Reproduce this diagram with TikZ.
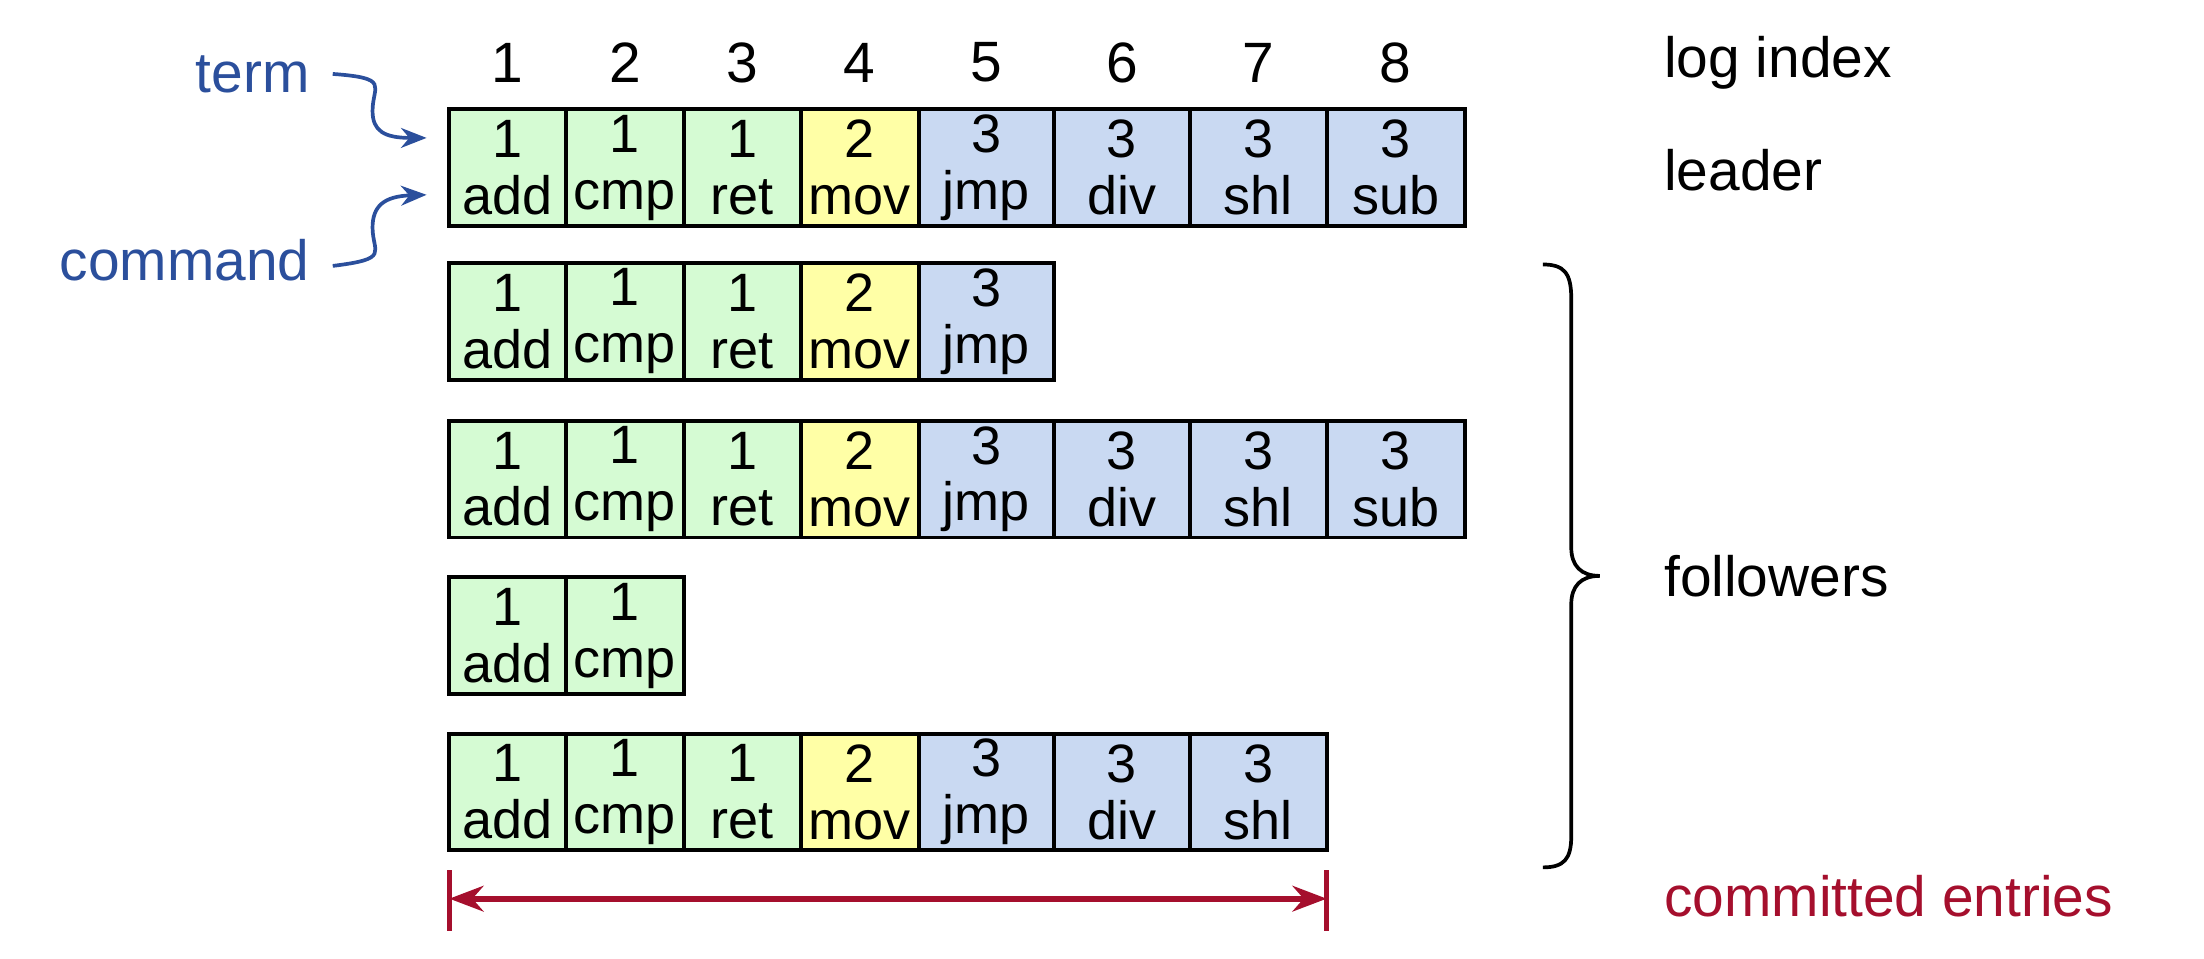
\documentclass[tikz,border=0pt]{standalone}
\usepackage{fontspec}
\setmainfont{Liberation Sans}
\usetikzlibrary{arrows.meta}
\definecolor{cg}{HTML}{D5FBD3}
\definecolor{cy}{HTML}{FFFFA6}
\definecolor{cb}{HTML}{C9D9F2}
\definecolor{tblue}{HTML}{2B4F9C}
\definecolor{cred}{HTML}{A50F2D}
\begin{document}
\begin{tikzpicture}[x=0.5pt,y=-0.5pt,
  cell/.style={draw=black,line width=1.4pt,inner sep=0pt,align=center,font=\fontsize{19}{20}\selectfont},
  lbl/.style={font=\fontsize{20}{22}\selectfont,anchor=west,inner sep=0pt},
  note/.style={font=\fontsize{20}{22}\selectfont,text=tblue,anchor=east,inner sep=0pt},
  bluearrow/.style={draw=tblue,line width=1.3pt,-{Stealth[length=9pt,width=7pt]}}]
\useasboundingbox (0,0) rectangle (1550,674);
% columns: left edges
\def\xs{{316,398,481,563,646,741,837,933,1030}}
\def\ys{{77,185,296,406,516}}
\newcommand\mycell[5]{% row, col, fill, term, cmd
  \pgfmathsetmacro\xl{\xs[#2-1]}\pgfmathsetmacro\xr{\xs[#2]}
  \pgfmathsetmacro\yt{\ys[#1-1]}
  \node[cell,fill=#3,minimum width={(\xr-\xl)*0.5pt},minimum height=41pt] (c#1-#2) at ({(\xl+\xr)/2},{\yt+41}) {#4\\#5};}
\newcommand\myrow[2]{% row, length
  \foreach \c/\f/\t/\m [count=\i] in {1/cg/1/add,2/cg/1/cmp,3/cg/1/ret,4/cy/2/mov,5/cb/3/jmp,6/cb/3/div,7/cb/3/shl,8/cb/3/sub}{
    \ifnum\i>#2\else\mycell{#1}{\c}{\f}{\t}{\m}\fi}}
\myrow{1}{8}
\myrow{2}{5}
\myrow{3}{8}
\myrow{4}{2}
\myrow{5}{7}
% index numbers
\foreach \i in {1,...,8}{
  \pgfmathsetmacro\xl{\xs[\i-1]}\pgfmathsetmacro\xr{\xs[\i]}
  \node[font=\fontsize{20}{22}\selectfont] (idx\i) at ({(\xl+\xr)/2},44) {\i};}
\node[lbl] (logidx) at (1170,44) {log index};
\node[lbl] (leader) at (1170,120) {leader};
\node[lbl] (foll) at (1170,405) {followers};
\node[lbl,text=cred] (comm) at (1170,630) {committed entries};
% brace
\draw[line width=1.3pt] (1085,186) .. controls (1100,186) and (1105,192) .. (1105,210)
  -- (1105,385) .. controls (1105,398) and (1112,405) .. (1125,405)
  .. controls (1112,405) and (1105,412) .. (1105,425)
  -- (1105,588) .. controls (1105,604) and (1100,610) .. (1085,610);
% term / command
\node[note] (term) at (218,52) {term};
\node[note] (cmd) at (218,183) {command};
\coordinate (tt) at (300,97);
\coordinate (ct) at (300,137);
\draw[bluearrow] ([xshift=8pt]term.east) .. controls (275,55) and (262,60) .. (262,78) .. controls (262,92) and (270,97) .. (tt);
\draw[bluearrow] ([xshift=8pt,yshift=-2pt]cmd.east) .. controls (275,182) and (262,178) .. (262,160) .. controls (262,145) and (270,138) .. (ct);
% committed arrow
\coordinate (ca) at (316,632);
\coordinate (cbb) at (933,632);
\draw[cred,line width=1.6pt] (316,612) -- (316,655);
\draw[cred,line width=1.6pt] (933,612) -- (933,655);
\draw[cred,line width=2pt,{Stealth[length=12pt,width=9pt]}-{Stealth[length=12pt,width=9pt]}] (ca) -- (cbb);
\end{tikzpicture}
\end{document}
